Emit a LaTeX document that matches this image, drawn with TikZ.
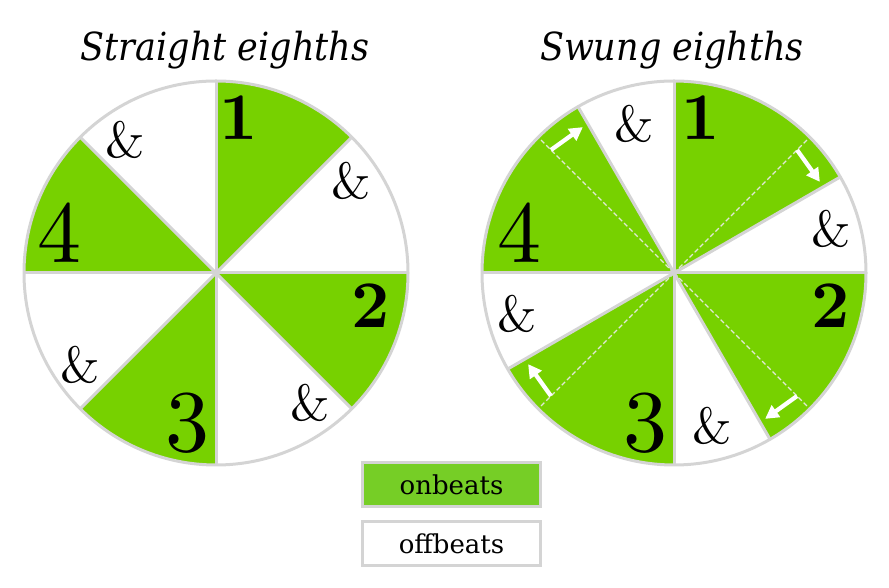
\documentclass[tikz,border=0pt]{standalone}
\usepackage{fontspec}
\setmainfont{DejaVu Serif}
\newfontfamily\lmfont{lmroman10-regular}[Extension=.otf,BoldFont=lmroman10-bold]
\usetikzlibrary{arrows.meta}
\definecolor{beat}{RGB}{119,209,0}
\definecolor{legbeat}{RGB}{118,206,38}
\definecolor{rim}{RGB}{212,212,212}
\definecolor{dashcol}{RGB}{225,232,215}
\begin{document}
\begin{tikzpicture}[x=0.75pt,y=0.75pt,
  divider/.style={draw=rim,line width=2.25pt},
  helper/.style={draw=dashcol,line width=1pt,dash pattern=on 3.5pt off 2pt},
  swingarrow/.style={draw=white,line width=3.2pt,-{Triangle[length=10pt,width=10.5pt]}},
  num/.style={font=\lmfont\bfseries\fontsize{50}{50}\selectfont,inner sep=0pt},
  bignum/.style={font=\lmfont\fontsize{66}{66}\selectfont,inner sep=0pt},
  amp/.style={font=\lmfont\fontsize{38}{38}\selectfont,inner sep=0pt},
  title/.style={font=\itshape\fontsize{29}{29}\selectfont,inner sep=0pt,anchor=base},
  legendbox/.style={draw=rim,line width=2.25pt,minimum width=134pt,minimum height=33pt,inner sep=0pt,font=\fontsize{19.5}{19.5}\selectfont}
]
\useasboundingbox (0,0) rectangle (889,588);
% ---------- Straight eighths ----------
\begin{scope}[shift={(216,315)}]
  \coordinate (L) at (0,0);
  \foreach \s in {90,0,-90,180}
    \fill[beat] (L) -- (\s:192) arc[start angle=\s,end angle=\s-45,radius=192] -- cycle;
  \foreach \a in {0,45,...,315}
    \draw[divider] (L) -- (\a:192);
  \draw[divider] (L) circle[radius=192];
\end{scope}
\node[title] (t1) at (225,527) {\scalebox{0.905}[1]{Straight eighths}};
\node[num] (l1) at (239,470) {1};
\node[amp] (la1) at (351,407) {\&};
\node[num] (l2) at (371,282) {2};
\node[amp] (la2) at (310,185) {\&};
\node[bignum] (l3) at (187,165) {3};
\node[amp] (la3) at (80,223) {\&};
\node[bignum] (l4) at (59,355) {4};
\node[amp] (la4) at (125,448) {\&};
% ---------- Swung eighths ----------
\begin{scope}[shift={(674,315)}]
  \coordinate (R) at (0,0);
  \foreach \s in {90,0,-90,180}
    \fill[beat] (R) -- (\s:192) arc[start angle=\s,end angle=\s-60,radius=192] -- cycle;
  \foreach \a in {45,135,-45,-135}
    \draw[helper] (R) -- (\a:191);
  \foreach \a in {90,30,0,-60,-90,-150,180,120}
    \draw[divider] (R) -- (\a:192);
  \draw[divider] (R) circle[radius=192];
  \foreach \a in {45,135,-45,-135}
    \draw[swingarrow] (\a:174) -- (\a-13:172);
\end{scope}
\node[title] (t2) at (672,527) {\scalebox{0.905}[1]{Swung eighths}};
\node[num] (r1) at (701,470) {1};
\node[amp] (ra1) at (831,359) {\&};
\node[num] (r2) at (831,282) {2};
\node[amp] (ra2) at (712,162) {\&};
\node[bignum] (r3) at (645,165) {3};
\node[amp] (ra3) at (517,274) {\&};
\node[bignum] (r4) at (519,355) {4};
\node[amp] (ra4) at (634,464) {\&};
% ---------- Legend ----------
\node[legendbox,fill=legbeat] (on) at (451.5,103.5) {onbeats};
\node[legendbox,fill=white] (off) at (451.5,44) {offbeats};
\end{tikzpicture}
\end{document}
